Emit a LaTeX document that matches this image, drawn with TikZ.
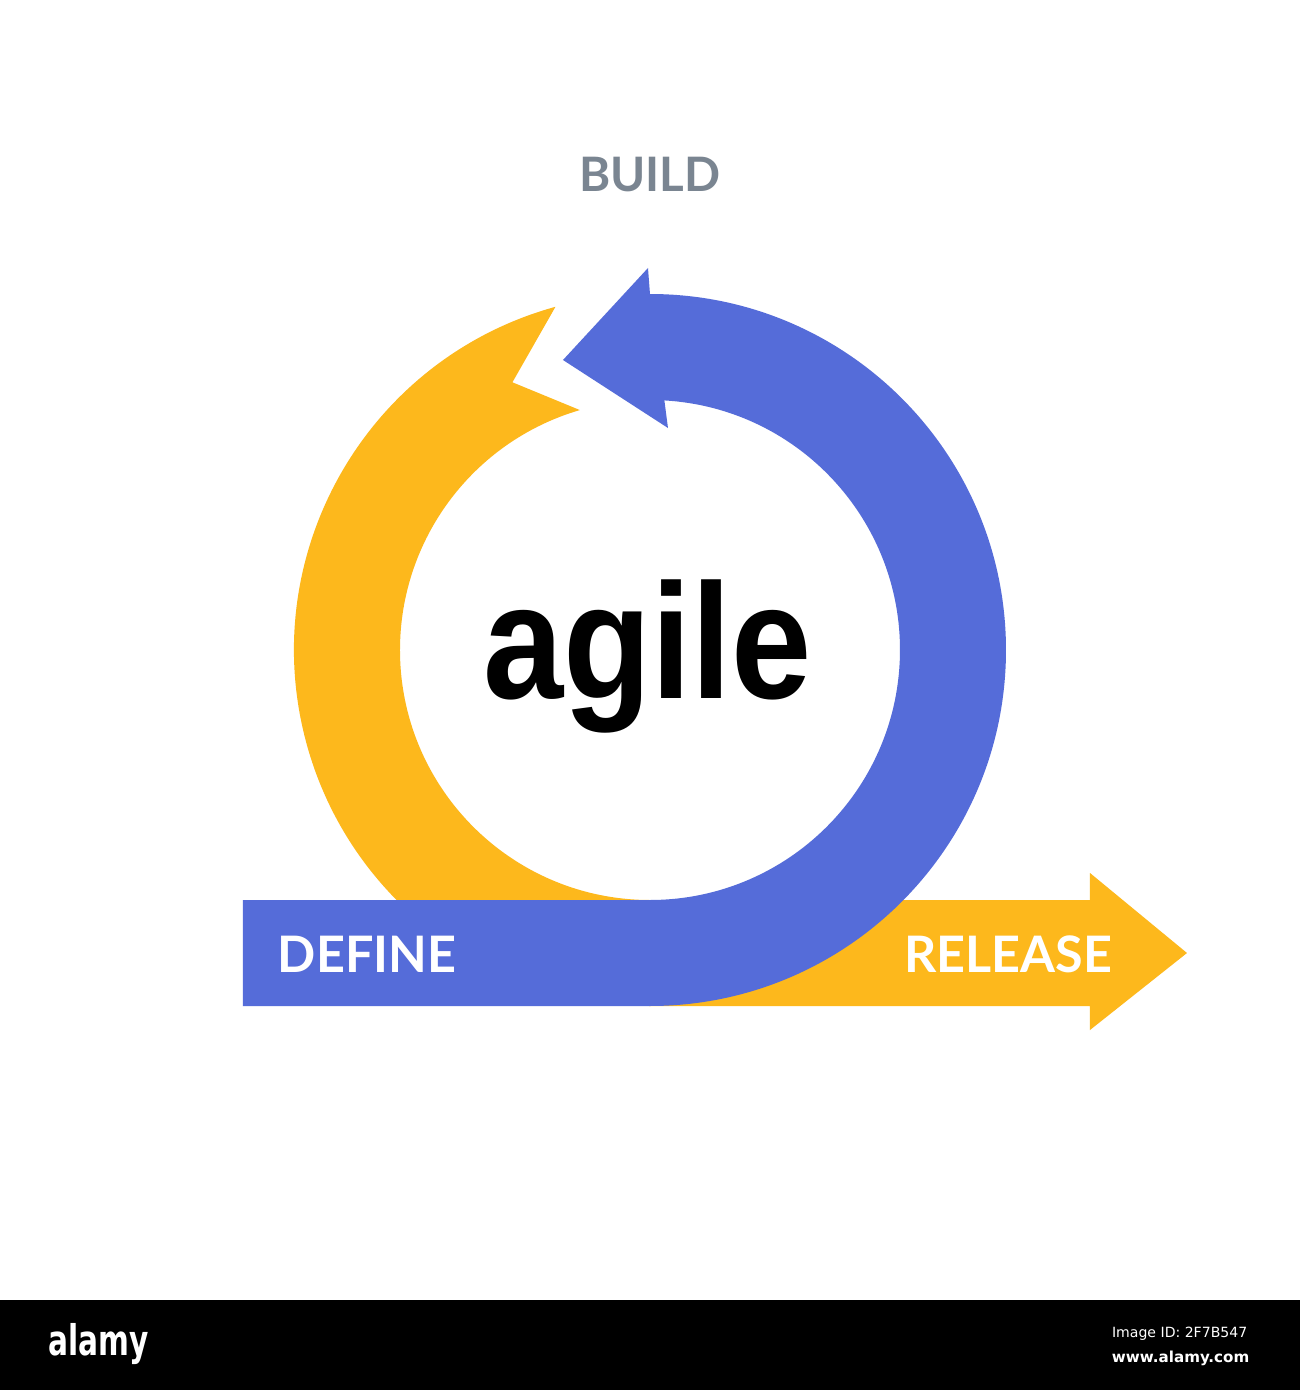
\documentclass[tikz,border=0pt]{standalone}
\usepackage{fontspec}
\setmainfont{Lato}
\newfontfamily\agilefont[FakeStretch=0.88]{Liberation Sans}
\newfontfamily\barfont{DejaVu Sans}
\newfontfamily\logofont[FakeStretch=0.78]{DejaVu Sans Condensed}
\definecolor{agileblue}{RGB}{85,108,217}
\definecolor{agileyellow}{RGB}{253,184,28}
\definecolor{buildgray}{RGB}{122,133,145}
\begin{document}
\begin{tikzpicture}[x=0.01cm, y=0.01cm,
    phasetext/.style={font=\fontsize{14.3}{16}\selectfont\bfseries, text=white, inner sep=0pt},
    bartext/.style={text=white, inner sep=0pt}]
  \useasboundingbox (-650,-740) rectangle (650,650);
  \fill[white] (-650,-740) rectangle (650,650);
  % yellow loop with notched tail and release arrow
  \fill[agileyellow] (105.4:356) arc[start angle=105.4, end angle=270, radius=356]
    -- (440,-356) -- (440,-380) -- (537,-303) -- (440,-223) -- (440,-250) -- (0,-250)
    arc[start angle=270, end angle=106.3, radius=250] -- (117.2:301) -- cycle;
  % blue bar and loop with arrow head
  \fill[agileblue] (-407,-356) -- (0,-356) arc[start angle=-90, end angle=90, radius=356]
    -- (-2,382) -- (-87,290) -- (18,222) -- (86.7:250)
    arc[start angle=86.7, end angle=-90, radius=250] -- (-407,-250) -- cycle;
  \node[font=\fontsize{13.5}{16}\selectfont\bfseries, text=buildgray, inner sep=0pt] (build) at (0,475) {BUILD};
  \node[font=\agilefont\fontsize{46.6}{50}\selectfont\bfseries, anchor=base, inner sep=0pt] (agile) at (-2.5,-48) {agile};
  \node[phasetext] (define) at (-283,-304) {DEFINE};
  \node[phasetext] (release) at (358,-304) {RELEASE};
  % footer
  \fill[black] (-650,-650) rectangle (650,-740);
  \node[bartext, font=\logofont\bfseries\fontsize{12}{14}\selectfont, anchor=base] (logo) at (-551,-705) {alamy};
  \node[bartext, font=\barfont\fontsize{4}{5}\selectfont, anchor=base east] (imageid) at (598,-687) {Image ID: 2F7B547};
  \node[bartext, font=\barfont\bfseries\fontsize{4.3}{5}\selectfont, anchor=base east] (site) at (600,-712) {www.alamy.com};
\end{tikzpicture}
\end{document}
